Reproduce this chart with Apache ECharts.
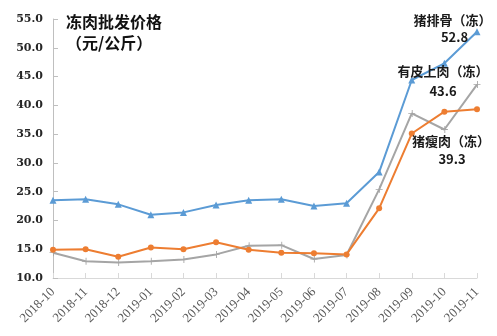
<!DOCTYPE html>
<html>
<head>
<meta charset="utf-8">
<script src="https://cdn.jsdelivr.net/npm/echarts@6/dist/echarts.min.js"></script>
<style>
  html, body { margin: 0; padding: 0; background: #fff; }
  #chart { width: 497px; height: 336px; }
</style>
</head>
<body>
<div id="chart"></div>
<script>
// Monthly frozen pork wholesale prices (yuan per kg)
const months = ['2018-10', '2018-11', '2018-12', '2019-01', '2019-02', '2019-03', '2019-04',
                '2019-05', '2019-06', '2019-07', '2019-08', '2019-09', '2019-10', '2019-11'];
const ribs = [23.5, 23.7, 22.8, 21.0, 21.4, 22.7, 23.5, 23.7, 22.5, 23.0, 28.4, 44.4, 47.3, 52.8];
const lean = [14.9, 15.0, 13.7, 15.3, 15.0, 16.2, 14.9, 14.4, 14.3, 14.1, 22.1, 35.1, 38.9, 39.3];
const skinOn = [14.4, 12.9, 12.7, 12.9, 13.2, 14.1, 15.6, 15.7, 13.3, 14.0, 25.4, 38.6, 35.8, 43.6];
const names = ['猪排骨（冻）', '有皮上肉（冻）', '猪瘦肉（冻）'];
const yTicks = { min: 10, max: 55, interval: 5 };

const labelFont = '"Noto Sans CJK SC", "Noto Sans", sans-serif';

// Attach a name + value caption to the final point of a series
function withEndLabel(values, name, offset, gap, shift) {
  return values.map((v, i) => {
    if (i !== values.length - 1) return v;
    return {
      value: v,
      label: {
        show: true,
        position: 'left',
        offset: offset,
        formatter: () => '{n|' + name + '}\n{v|' + v.toFixed(1) + '}',
        rich: {
          n: { fontFamily: labelFont, fontWeight: 'bold', fontSize: 13, color: '#1a1a1a', lineHeight: gap, align: 'center' },
          v: { fontFamily: labelFont, fontWeight: 'bold', fontSize: 13, color: '#1a1a1a', lineHeight: gap, align: 'center', padding: [0, 0, 0, shift] }
        }
      }
    };
  });
}

const plusPath = 'path://M0,4L8,4L8,5L0,5ZM4,0L5,0L5,9L4,9Z';

const chart = echarts.init(document.getElementById('chart'), null, { renderer: 'canvas' });
chart.setOption({
  animation: false,
  backgroundColor: '#fff',
  title: {
    text: '冻肉批发价格\n（元/公斤）',
    left: 66,
    top: 11,
    padding: 0,
    textStyle: { fontFamily: labelFont, fontWeight: 'bold', fontSize: 16, lineHeight: 21, color: '#111' }
  },
  grid: { left: 53, right: 20, top: 19, bottom: 58 },
  xAxis: {
    type: 'category',
    data: months,
    boundaryGap: false,
    axisLine: { lineStyle: { color: '#D9D9D9' } },
    axisTick: { show: true, inside: true, length: 5, lineStyle: { color: '#D9D9D9' } },
    axisLabel: {
      rotate: 45,
      margin: 12,
      color: '#595959',
      fontFamily: '"Liberation Serif", serif',
      fontSize: 13
    }
  },
  yAxis: {
    type: 'value',
    min: yTicks.min,
    max: yTicks.max,
    interval: yTicks.interval,
    axisLine: { show: true, lineStyle: { color: '#BFBFBF' } },
    axisTick: { show: true, inside: true, length: 5, lineStyle: { color: '#BFBFBF' } },
    splitLine: { show: false },
    axisLabel: {
      formatter: v => v.toFixed(1),
      color: '#262626',
      fontFamily: '"DejaVu Serif", serif',
      fontWeight: 'bold',
      fontSize: 11,
      margin: 10
    }
  },
  series: [
    {
      name: names[0],
      type: 'line',
      data: withEndLabel(ribs, names[0], [23, -3], 17, 4),
      symbol: 'triangle',
      symbolSize: 7,
      lineStyle: { width: 2, color: '#5B9BD5' },
      itemStyle: { color: '#5B9BD5' }
    },
    {
      name: names[1],
      type: 'line',
      data: withEndLabel(skinOn, names[1], [20, -4], 20, 0),
      symbol: plusPath,
      symbolSize: 7,
      lineStyle: { width: 2, color: '#A5A5A5' },
      itemStyle: { color: '#A5A5A5' }
    },
    {
      name: names[2],
      type: 'line',
      data: withEndLabel(lean, names[2], [21, 41], 18, 2),
      symbol: 'circle',
      symbolSize: 6,
      lineStyle: { width: 2, color: '#ED7D31' },
      itemStyle: { color: '#ED7D31' }
    }
  ]
});
</script>
</body>
</html>
